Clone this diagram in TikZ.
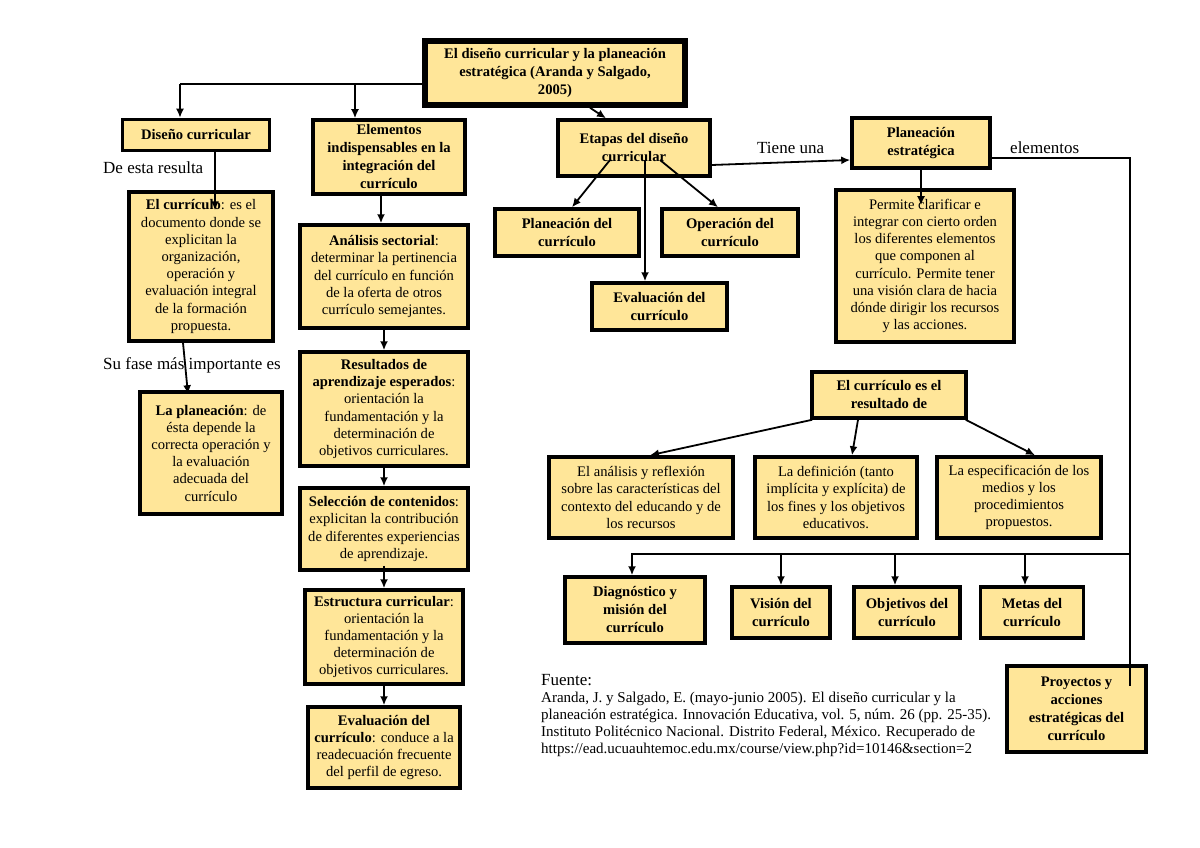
\documentclass[tikz,border=0pt]{standalone}
\usepackage{fontspec}
\setmainfont{Liberation Serif}
\usetikzlibrary{arrows.meta}
\definecolor{boxfill}{HTML}{FFE699}
\begin{document}
\begin{tikzpicture}[x=1pt,y=-1pt,
 box/.style={draw, line width=3.5pt, fill=boxfill, align=center, font=\fontsize{14.6}{17.2}\selectfont, inner sep=1.5pt},
 hdr/.style={box, font=\fontsize{14.6}{18}\selectfont\bfseries},
 arr/.style={line width=1.8pt, -{Latex[length=9pt,width=8pt]}},
 ln/.style={line width=1.8pt},
 lbl/.style={font=\fontsize{17}{19}\selectfont, inner sep=0pt},
]
\useasboundingbox (0,0) rectangle (1200,848);
\fill[white] (0,0) rectangle (1200,848);

% nodes
\node[hdr, line width=5.5pt, minimum width=260pt, minimum height=64pt] (title) at (555,73) {El diseño curricular y la planeación\\ estratégica (Aranda y Salgado,\\ 2005)};
\node[hdr, minimum width=147pt, minimum height=31pt] (dis) at (196,135) {Diseño curricular};
\node[hdr, minimum width=152pt, minimum height=74pt] (elem) at (389,157) {Elementos\\ indispensables en la\\ integración del\\ currículo};
\node[hdr, minimum width=152pt, minimum height=56pt] (etapas) at (634,148) {Etapas del diseño\\ curricular};
\node[hdr, minimum width=138pt, minimum height=50pt] (pe) at (921,143) {Planeación\\ estratégica};

\node[box, minimum width=144pt, minimum height=149pt] (curr) at (201,266.5) {\textbf{El currículo}: es el\\ documento donde se\\ explicitan la\\ organización,\\ operación y\\ evaluación integral\\ de la formación\\ propuesta.};
\node[box, minimum width=142pt, minimum height=122pt] (lap) at (211,453) {\textbf{La planeación}: de\\ ésta depende la\\ correcta operación y\\ la evaluación\\ adecuada del\\ currículo};

\node[box, minimum width=168pt, minimum height=103pt] (anal) at (384,276.5) {\textbf{Análisis sectorial}:\\ determinar la pertinencia\\ del currículo en función\\ de la oferta de otros\\ currículo semejantes.};
\node[box, minimum width=168pt, minimum height=114pt] (res) at (384,409) {\textbf{Resultados de}\\ \textbf{aprendizaje esperados}:\\ orientación la\\ fundamentación y la\\ determinación de\\ objetivos curriculares.};
\node[box, minimum width=168pt, minimum height=82pt] (sel) at (384,529) {\textbf{Selección de contenidos}:\\ explicitan la contribución\\ de diferentes experiencias\\ de aprendizaje.};
\node[box, minimum width=158pt, minimum height=94pt] (est) at (384,637) {\textbf{Estructura curricular}:\\ orientación la\\ fundamentación y la\\ determinación de\\ objetivos curriculares.};
\node[box, minimum width=152pt, minimum height=81pt] (evl) at (384,747.5) {\textbf{Evaluación del}\\ \textbf{currículo}: conduce a la\\ readecuación frecuente\\ del perfil de egreso.};

\node[hdr, minimum width=144pt, minimum height=47pt] (plc) at (567,232.5) {Planeación del\\ currículo};
\node[hdr, minimum width=136pt, minimum height=47pt] (opc) at (730,232.5) {Operación del\\ currículo};
\node[hdr, minimum width=135pt, minimum height=47pt] (evc) at (659.5,306.5) {Evaluación del\\ currículo};

\node[box, minimum width=178pt, minimum height=152pt] (perm) at (925,266) {Permite clarificar e\\ integrar con cierto orden\\ los diferentes elementos\\ que componen al\\ currículo. Permite tener\\ una visión clara de hacia\\ dónde dirigir los recursos\\ y las acciones.};

\node[hdr, minimum width=154pt, minimum height=46pt] (resd) at (889,395) {El currículo es el\\ resultado de};
\node[box, minimum width=184pt, minimum height=81pt] (ar) at (641,497.5) {El análisis y reflexión\\ sobre las características del\\ contexto del educando y de\\ los recursos};
\node[box, minimum width=162pt, minimum height=81pt] (def) at (836,497.5) {La definición (tanto\\ implícita y explícita) de\\ los fines y los objetivos\\ educativos.};
\node[box, minimum width=164pt, minimum height=81pt] (esp) at (1019,497.5) {La especificación de los\\ medios y los\\ procedimientos\\ propuestos.};

\node[hdr, minimum width=140pt, minimum height=66pt] (diag) at (635,610) {Diagnóstico y\\ misión del\\ currículo};
\node[hdr, minimum width=98pt, minimum height=51pt] (vis) at (781,612.5) {Visión del\\ currículo};
\node[hdr, minimum width=106pt, minimum height=51pt] (obj) at (907,612.5) {Objetivos del\\ currículo};
\node[hdr, minimum width=103pt, minimum height=51pt] (met) at (1032,612.5) {Metas del\\ currículo};
\node[hdr, minimum width=139pt, minimum height=86pt] (proy) at (1076.5,709) {Proyectos y\\ acciones\\ estratégicas del\\ currículo};

% labels
\node[lbl, anchor=west] (l1) at (103,168) {De esta resulta};
\node[lbl, anchor=west] (l2) at (103,365) {Su fase más importante es};
\node[lbl, anchor=west] (l3) at (757,148) {Tiene una};
\node[lbl, anchor=west] (l4) at (1010,148) {elementos};

\node[anchor=north west, align=left, inner sep=0pt, font=\fontsize{15}{17}\selectfont] (fuente) at (541,674) {{\fontsize{17}{17}\selectfont Fuente:}\\ Aranda, J. y Salgado, E. (mayo-junio 2005). El diseño curricular y la\\ planeación estratégica. Innovación Educativa, vol. 5, núm. 26 (pp. 25-35).\\ Instituto Politécnico Nacional. Distrito Federal, México. Recuperado de\\ https://ead.ucuauhtemoc.edu.mx/course/view.php?id=10146\&section=2};

% connectors
\coordinate (j0) at (180,84);
\coordinate (j1) at (355,84);
\draw[ln] ([yshift=-11]title.west) -- (j0);
\draw[arr] (j0) -- ([xshift=-16]dis.north);
\draw[arr] (j1) -- ([xshift=-34]elem.north);
\draw[arr] ([xshift=35]title.south) -- ([xshift=-28]etapas.north);

\draw[arr] ([xshift=19]dis.south) -- ([xshift=14,yshift=-20]curr.north);
\draw[arr] ([xshift=-18]curr.south) -- ([xshift=-23,yshift=-4]lap.north);

\draw[arr] ([xshift=-8]elem.south) -- ([xshift=-3]anal.north);
\draw[arr] (anal.south) -- (res.north);
\draw[arr] (res.south) -- (sel.north);
\draw[arr] ([yshift=6]sel.south) -- (est.north);
\draw[arr] (est.south) -- (evl.north);

\draw[arr] ([xshift=-24,yshift=-12]etapas.center) -- ([xshift=5]plc.north);
\draw[arr] ([xshift=11,yshift=-12]etapas.center) -- ([xshift=-14.5]evc.north);
\draw[arr] ([xshift=26,yshift=-12]etapas.center) -- ([xshift=-12]opc.north);
\draw[arr] ([yshift=-17]etapas.east) -- ([yshift=-17]pe.west);

\draw[arr] (pe.south) -- ([yshift=-17]perm.north -| pe.south);

\coordinate (c2) at (1130,686);
\coordinate (c3) at (1130,554);
\draw[ln] ([yshift=-15]pe.east) -| (c2);
\draw[arr] (c3) -| ([xshift=-3]diag.north);
\draw[arr] (c3 -| vis.north) -- (vis.north);
\draw[arr] ([xshift=-12]c3 -| obj.north) -- ([xshift=-12]obj.north);
\draw[arr] ([xshift=-7]c3 -| met.north) -- ([xshift=-7]met.north);

\draw[arr] ([xshift=2]resd.south west) -- ([xshift=9]ar.north);
\draw[arr] ([xshift=-31]resd.south) -- ([xshift=16]def.north);
\draw[arr] ([xshift=-2]resd.south east) -- ([xshift=16]esp.north);
\end{tikzpicture}
\end{document}
